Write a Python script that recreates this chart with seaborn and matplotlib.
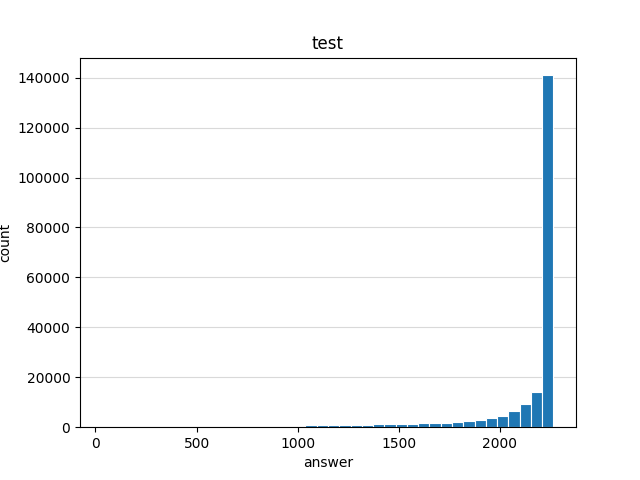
import numpy as np
import pandas as pd
import matplotlib
matplotlib.use("Agg")
import matplotlib.pyplot as plt
import seaborn as sns

# histogram of answers, 40 equal bins
lo, hi = 35, 2265
n_bins = 40
counts = [5, 3, 4, 6, 5, 8, 7, 10, 12, 10, 15, 14, 18, 20, 25, 30, 40, 60,
          820, 840, 860, 880, 900, 940, 1100, 1150, 1200, 1420, 1500, 1800, 1850,
          2150, 2550, 2950, 3600, 4400, 6400, 9200, 14100, 141000]

edges = np.linspace(lo, hi, n_bins + 1)
centers = (edges[:-1] + edges[1:]) / 2
df = pd.DataFrame({"answer": centers, "n": counts})

fig, ax = plt.subplots(figsize=(6.4, 4.8), dpi=100)
sns.histplot(data=df, x="answer", weights="n", bins=n_bins, binrange=(lo, hi),
             color="#1f77b4", edgecolor="white", linewidth=0.8, alpha=1, ax=ax)
ax.set_axisbelow(True)
ax.yaxis.grid(True, color="#d9d9d9")
ax.set_title("test")
ax.set_xlabel("answer")
ax.set_ylabel("count")
fig.savefig("out.png")
